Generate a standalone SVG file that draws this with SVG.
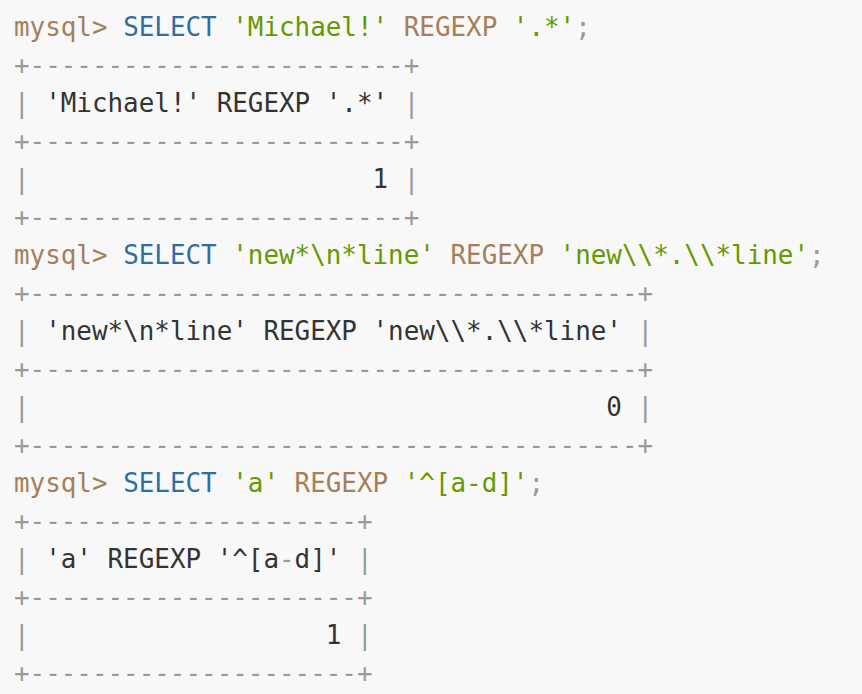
<svg xmlns="http://www.w3.org/2000/svg" width="862" height="694" viewBox="0 0 862 694">
<style>
text{font-family:"DejaVu Sans Mono","Liberation Mono",monospace;font-size:25.9px;fill:#333;white-space:pre}
.p{fill:#a67f59}.k{fill:#2f6f9f}.s{fill:#669900}.g{fill:#999}
</style>
<rect width="862" height="694" fill="#f8f8f8"/>
<g id="q1" xml:space="preserve">
<text x="14" y="36"><tspan class="p">mysql&gt;</tspan> <tspan class="k">SELECT</tspan> <tspan class="s">'Michael!'</tspan> <tspan class="p">REGEXP</tspan> <tspan class="s">'.*'</tspan><tspan class="g">;</tspan></text>
<text x="14" y="74" class="g">+------------------------+</text>
<text x="14" y="112"><tspan class="g">|</tspan> 'Michael!' REGEXP '.*' <tspan class="g">|</tspan></text>
<text x="14" y="150" class="g">+------------------------+</text>
<text x="14" y="188"><tspan class="g">|</tspan>                      1 <tspan class="g">|</tspan></text>
<text x="14" y="226" class="g">+------------------------+</text>
</g>
<g id="q2" xml:space="preserve">
<text x="14" y="264"><tspan class="p">mysql&gt;</tspan> <tspan class="k">SELECT</tspan> <tspan class="s">'new*\n*line'</tspan> <tspan class="p">REGEXP</tspan> <tspan class="s">'new\\*.\\*line'</tspan><tspan class="g">;</tspan></text>
<text x="14" y="302" class="g">+---------------------------------------+</text>
<text x="14" y="340"><tspan class="g">|</tspan> 'new*\n*line' REGEXP 'new\\*.\\*line' <tspan class="g">|</tspan></text>
<text x="14" y="378" class="g">+---------------------------------------+</text>
<text x="14" y="416"><tspan class="g">|</tspan>                                     0 <tspan class="g">|</tspan></text>
<text x="14" y="454" class="g">+---------------------------------------+</text>
</g>
<g id="q3" xml:space="preserve">
<text x="14" y="492"><tspan class="p">mysql&gt;</tspan> <tspan class="k">SELECT</tspan> <tspan class="s">'a'</tspan> <tspan class="p">REGEXP</tspan> <tspan class="s">'^[a-d]'</tspan><tspan class="g">;</tspan></text>
<text x="14" y="530" class="g">+---------------------+</text>
<text x="14" y="568"><tspan class="g">|</tspan> 'a' REGEXP '^[a<tspan class="g">-</tspan>d]' <tspan class="g">|</tspan></text>
<text x="14" y="606" class="g">+---------------------+</text>
<text x="14" y="644"><tspan class="g">|</tspan>                   1 <tspan class="g">|</tspan></text>
<text x="14" y="682" class="g">+---------------------+</text>
</g>
</svg>
